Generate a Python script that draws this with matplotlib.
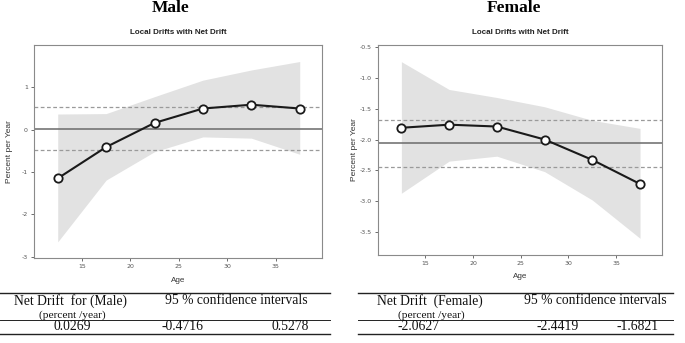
import matplotlib
matplotlib.use("Agg")
import matplotlib.pyplot as plt
from matplotlib.lines import Line2D

W, H = 685, 343

age = [12.5, 17.5, 22.5, 27.5, 32.5, 37.5]

male_drift = [-1.15, -0.41, 0.16, 0.50, 0.59, 0.50]
male_upper = [0.37, 0.38, 0.78, 1.17, 1.41, 1.61]
male_lower = [-2.65, -1.19, -0.52, -0.17, -0.20, -0.58]
male_net = [0.0269, -0.4716, 0.5278]

female_drift = [-1.81, -1.76, -1.79, -2.00, -2.33, -2.72]
female_upper = [-0.74, -1.19, -1.32, -1.47, -1.69, -1.82]
female_lower = [-2.87, -2.35, -2.27, -2.52, -2.98, -3.60]
female_net = [-2.0627, -2.4419, -1.6821]

male_yticks = [-3, -2, -1, 0, 1]
female_yticks = [-3.5, -3.0, -2.5, -2.0, -1.5, -1.0, -0.5]
xticks = [15, 20, 25, 30, 35]

fig = plt.figure(figsize=(W / 100, H / 100), dpi=100)
fig.patch.set_facecolor("white")


def px(x, y):
    return x / W, 1 - y / H


def panel(box, drift, upper, lower, net, yticks, ylim, ytfmt):
    l, t, r, b = box
    ax = fig.add_axes([l / W, 1 - b / H, (r - l) / W, (b - t) / H])
    ax.fill_between(age, lower, upper, color="#e2e2e2", lw=0, zorder=1)
    ax.axhline(net[0], color="#6a6a6a", lw=1.1, zorder=2)
    ax.axhline(net[1], color="#9a9a9a", lw=0.9, ls=(0, (3, 2)), zorder=2)
    ax.axhline(net[2], color="#9a9a9a", lw=0.9, ls=(0, (3, 2)), zorder=2)
    ax.plot(age, drift, color="#1a1a1a", lw=1.5, marker="o", ms=6,
            mfc="white", mec="#1a1a1a", mew=1.3, zorder=3)
    ax.set_xlim(10.05, 39.8)
    ax.set_ylim(*ylim)
    ax.set_xticks(xticks)
    ax.set_yticks(yticks)
    ax.set_yticklabels([ytfmt.format(v) for v in yticks])
    ax.tick_params(labelsize=4.5, colors="#555555", length=2.5, width=0.6, pad=2)
    for s in ax.spines.values():
        s.set_color("#8a8a8a")
        s.set_linewidth(0.8)
    return ax


panel((34, 45, 322, 258), male_drift, male_upper, male_lower, male_net,
      male_yticks, (-3.03, 2.0), "{:g}")
panel((378, 45, 662, 255), female_drift, female_upper, female_lower, female_net,
      female_yticks, (-3.87, -0.47), "{:.1f}")

serif = "Liberation Serif"
sans = "Liberation Sans"

# titles and axis labels
for cx, title, sub_cx, age_y in [(171, "Male", 178, 281), (514, "Female", 520, 276)]:
    fig.text(*px(cx, 12.5), title, ha="center", va="baseline", family=serif,
             weight="bold", fontsize=12.5)
    fig.text(*px(sub_cx, 32), "Local Drifts with Net Drift", ha="center",
             va="center", family=sans, weight="bold", fontsize=5.8, color="#222222")
    fig.text(*px(sub_cx, age_y), "Age", ha="center", va="center", family=sans,
             fontsize=5.8, color="#333333")
fig.text(*px(10, 152), "Percent per Year", rotation=90, ha="center", va="center",
         family=sans, fontsize=6, color="#333333")
fig.text(*px(355, 150), "Percent per Year", rotation=90, ha="center", va="center",
         family=sans, fontsize=6, color="#333333")


def hline(x0, x1, y, lw):
    fig.add_artist(Line2D([x0 / W, x1 / W], [1 - y / H, 1 - y / H],
                          color="#222222", lw=lw))


# tables
tables = [
    (0, 330, "Net Drift  for (Male)", 71, 236, male_net, [72, 183, 290]),
    (358, 673, "Net Drift  (Female)", 430, 595, female_net, [418, 558, 638]),
]
for x0, x1, head, head_x, ci_x, vals, val_x in tables:
    hline(x0, x1, 293, 1.0)
    hline(x0, x1, 319.5, 0.7)
    hline(x0, x1, 334, 1.0)
    tk = dict(ha="center", va="baseline", family=serif, color="#111111")
    fig.text(*px(head_x, 304.5), head, fontsize=9.8, **tk)
    fig.text(*px(ci_x, 304.5), "95 % confidence intervals", fontsize=9.8, **tk)
    fig.text(*px(head_x + 1, 317.5), "(percent /year)", fontsize=8.2, **tk)
    for vx, v in zip(val_x, vals):
        fig.text(*px(vx, 330.5), f"{v:.4f}", fontsize=9.8, **tk)

fig.savefig("out.png", dpi=100, facecolor="white")
